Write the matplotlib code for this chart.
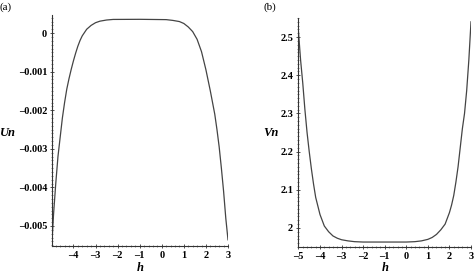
import matplotlib
matplotlib.use("Agg")
import matplotlib.pyplot as plt
from matplotlib.ticker import AutoMinorLocator

# Panel (a): Un versus h
h_u = [-4.95, -4.9, -4.8, -4.7, -4.6, -4.5, -4.4, -4.3, -4.2, -4.1, -4.0, -3.9,
       -3.8, -3.7, -3.6, -3.4, -3.2, -3.0, -2.8, -2.5, -2.2, -1.0,
       0.2, 0.5, 0.8, 1.0, 1.2, 1.4, 1.6, 1.8, 2.0, 2.2, 2.3, 2.4, 2.5, 2.6,
       2.7, 2.8, 2.9, 3.0]
un = [-0.0052, -0.0047, -0.0039, -0.0032, -0.0027, -0.0022, -0.00180, -0.00145,
      -0.00118, -0.00094, -0.00072, -0.00052, -0.00034, -0.00019, -0.00007,
      0.00010, 0.00020, 0.00027, 0.00031, 0.00034, 0.000355, 0.000358,
      0.00035, 0.00033, 0.00030, 0.00025, 0.00016, 0.00004, -0.00016, -0.00048,
      -0.00095, -0.0015, -0.0018, -0.0021, -0.0025, -0.00295, -0.0035, -0.0041,
      -0.0048, -0.00536]

# Panel (b): Vn versus h
h_v = [-5.0, -4.9, -4.8, -4.7, -4.6, -4.5, -4.4, -4.3, -4.2, -4.0, -3.8, -3.6,
       -3.4, -3.2, -3.0, -2.7, -2.4, -2.0, -1.0, 0.0, 0.4, 0.7, 1.0, 1.2, 1.4,
       1.6, 1.8, 2.0, 2.1, 2.2, 2.3, 2.4, 2.5, 2.6, 2.7, 2.8, 2.9, 3.0]
vn = [2.515, 2.44, 2.38, 2.31, 2.25, 2.20, 2.155, 2.115, 2.08, 2.035, 2.005,
      1.99, 1.979, 1.973, 1.969, 1.966, 1.964, 1.963, 1.963, 1.963, 1.964,
      1.966, 1.970, 1.975, 1.983, 1.995, 2.01, 2.04, 2.06, 2.085, 2.12, 2.16,
      2.21, 2.26, 2.30, 2.36, 2.44, 2.54]

u_ticks = [0, -0.001, -0.002, -0.003, -0.004, -0.005]
u_labels = ["0", "\u20130.001", "\u20130.002", "\u20130.003", "\u20130.004", "\u20130.005"]
v_ticks = [2.0, 2.1, 2.2, 2.3, 2.4, 2.5]
v_labels = ["2", "2.1", "2.2", "2.3", "2.4", "2.5"]
ua_xticks = [-4, -3, -2, -1, 0, 1, 2, 3]
vb_xticks = [-5, -4, -3, -2, -1, 0, 1, 2, 3]

serif = "Liberation Serif"
fig = plt.figure(figsize=(4.74, 2.76), dpi=100)

ax1 = fig.add_axes([52/474, 30/276, 176/474, 231/276])
ax2 = fig.add_axes([298/474, 29/276, 173/474, 229/276])

line_color = "#444444"
ax1.plot(h_u, un, color=line_color, lw=0.9)
ax2.plot(h_v, vn, color=line_color, lw=0.9)

ax1.set_xlim(-4.97, 3.0)
ax1.set_ylim(-0.00552, 0.00047)
ax2.set_xlim(-5.02, 3.0)
ax2.set_ylim(1.95, 2.55)

def xlabels(t):
    return [("\u2013%d" % -v) if v < 0 else "%d" % v for v in t]

for ax, xt, yt, yl in [(ax1, ua_xticks, u_ticks, u_labels), (ax2, vb_xticks, v_ticks, v_labels)]:
    for s in ("top", "right"):
        ax.spines[s].set_visible(False)
    for s in ("left", "bottom"):
        ax.spines[s].set_linewidth(0.8)
        ax.spines[s].set_color("#333333")
    ax.set_xticks(xt)
    ax.set_xticklabels(xlabels(xt))
    ax.set_yticks(yt)
    ax.set_yticklabels(yl)
    ax.xaxis.set_minor_locator(AutoMinorLocator(5))
    ax.yaxis.set_minor_locator(AutoMinorLocator(10))
    ax.tick_params(which="major", direction="inout", length=3, width=0.6, color="#333333", pad=2)
    ax.tick_params(which="minor", direction="inout", length=1.8, width=0.4, color="#333333")
    for lab in ax.get_xticklabels() + ax.get_yticklabels():
        lab.set_fontfamily(serif)
        lab.set_fontweight("bold")
        lab.set_fontsize(7.5)

fig.text(140/474, 1 - 268/276, "h", fontfamily=serif, fontweight="bold", fontstyle="italic",
         fontsize=9, ha="center", va="center")
fig.text(385/474, 1 - 268/276, "h", fontfamily=serif, fontweight="bold", fontstyle="italic",
         fontsize=9, ha="center", va="center")
fig.text(8/474, 1 - 133/276, "Un", fontfamily=serif, fontweight="bold", fontstyle="italic",
         fontsize=9, ha="center", va="center")
fig.text(271/474, 1 - 133/276, "Vn", fontfamily=serif, fontweight="bold", fontstyle="italic",
         fontsize=9, ha="center", va="center")
fig.text(6/474, 1 - 7/276, "(a)", fontfamily=serif, fontsize=8, ha="center", va="center")
fig.text(270/474, 1 - 7/276, "(b)", fontfamily=serif, fontsize=8, ha="center", va="center")

fig.savefig("out.png", dpi=100)
